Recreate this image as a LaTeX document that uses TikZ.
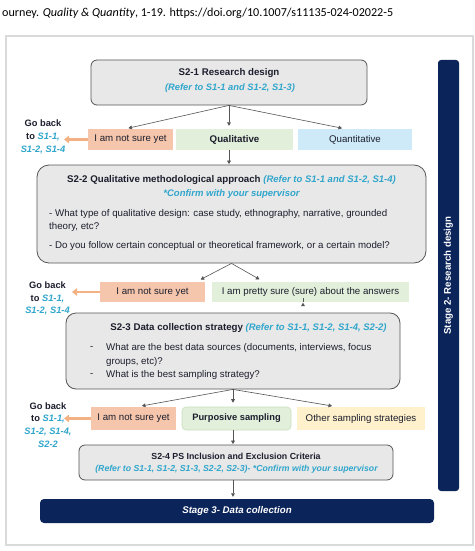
\documentclass[tikz,border=0pt]{standalone}
\usepackage{graphicx}
\usepackage{fontspec}
\setmainfont{Liberation Sans}
\newfontfamily\capfont{Carlito}
\usetikzlibrary{arrows.meta,calc}

\definecolor{navy}{RGB}{11,36,90}
\definecolor{boxgray}{RGB}{232,232,232}
\definecolor{boxline}{RGB}{85,85,85}
\definecolor{salmon}{RGB}{246,198,172}
\definecolor{lgreen}{RGB}{226,239,218}
\definecolor{greenline}{RGB}{200,224,190}
\definecolor{lblue}{RGB}{206,234,248}
\definecolor{lyellow}{RGB}{254,241,204}
\definecolor{cyantxt}{RGB}{48,166,204}
\definecolor{orangearr}{RGB}{244,177,131}
\definecolor{framegray}{RGB}{218,218,218}
\definecolor{txt}{RGB}{28,30,45}
\definecolor{arrgray}{RGB}{85,85,85}

\newcommand{\rf}[1]{{\color{cyantxt}\bfseries\itshape #1}}

\begin{document}
\begin{tikzpicture}[x=1pt,y=-1pt,
  font=\fontsize{9.7}{12.5}\selectfont,
  mainbox/.style={draw=boxline, line width=0.8pt, fill=boxgray, inner sep=0pt},
  optbox/.style={inner sep=0pt, text=txt, minimum height=21pt},
  conn/.style={draw=arrgray, line width=0.6pt, -{Triangle[length=3.5pt,width=3.8pt]}},
  backarrow/.style={draw=orangearr, line width=2.2pt, -{Triangle[length=5pt,width=7.5pt]}},
  goback/.style={align=center, font=\fontsize{9.3}{12.7}\selectfont\bfseries, text=txt, inner sep=0pt},
  ttl/.style={text=txt, inner sep=0pt, font=\fontsize{9.7}{12}\selectfont\bfseries},
  plain/.style={text=txt, inner sep=0pt},
  body/.style={text=txt, inner sep=0pt, anchor=west},
]
\useasboundingbox (0,0) rectangle (474,551);
\fill[white] (0,0) rectangle (474,551);

% citation line
\node[anchor=west, inner sep=0pt, text=black] (cite) at (2,13)
  {\resizebox{391pt}{!}{\capfont\fontsize{11.5}{13}\selectfont ourney. \textit{Quality \& Quantity}, 1-19. https://doi.org/10.1007/s11135-024-02022-5}};

% outer frame
\draw[framegray, line width=1.2pt, fill=white] (6,36) rectangle (473,545);

% sidebar
\node[fill=navy, rounded corners=3pt, rotate=90, minimum width=431pt, minimum height=21pt,
      inner sep=0pt, text=white, font=\fontsize{9.7}{12}\selectfont\bfseries] (st2) at (448.5,275.5)
  {Stage 2- Research design};

% S2-1
\node[mainbox, rounded corners=6pt, minimum width=276pt, minimum height=45pt] (s21) at (229,82.5) {};
\node[ttl] (s21t) at (229,73) {S2-1 Research design};
\node[plain, font=\fontsize{9.3}{12}\selectfont] (s21r) at (230,88) {\rf{(Refer to S1-1 and S1-2, S1-3)}};

% row 1
\node[optbox, fill=salmon, minimum width=85pt] (ns1) at (130.5,139.5) {I am not sure yet};
\node[optbox, fill=lgreen, minimum width=117pt, font=\fontsize{9.7}{12}\selectfont\bfseries] (qual) at (234.5,139.5) {Qualitative};
\node[optbox, fill=lblue, minimum width=114pt] (quant) at (355,139.5) {Quantitative};
\node[goback] (gb1) at (43,137) {Go back\\to \rf{S1-1,}\\\rf{S1-2, S1-4}};
\coordinate (gb1tip) at (64,139.5);

\draw[conn, shorten >=3pt] (s21.south) -- ($(ns1.north)+(-5,0)$);
\draw[conn, shorten >=3pt] (s21.south) -- (s21.south |- qual.north);
\draw[conn, shorten >=3pt] (s21.south) -- ($(quant.north)+(-10,0)$);
\draw[backarrow] (ns1.west) -- (gb1tip);

% S2-2
\node[mainbox, rounded corners=12pt, minimum width=389pt, minimum height=98pt] (s22) at (231.5,214) {};
\draw[conn, shorten >=0.5pt] (qual.south -| s21.south) -- (s22.north -| s21.south);
\node[plain] (s22t) at (231.5,180) {\bfseries S2-2 Qualitative methodological approach {\fontsize{9.5}{12}\selectfont\rf{(Refer to S1-1 and S1-2, S1-4)}}};
\node[plain, font=\fontsize{9.5}{12}\selectfont] (s22c) at (231.5,194) {\rf{*Confirm with your supervisor}};
\node[body] (s22b1) at (49,214) {- What type of qualitative design: case study, ethnography, narrative, grounded};
\node[body] (s22b2) at (49,226.5) {theory, etc?};
\node[body] (s22b3) at (49,246) {- Do you follow certain conceptual or theoretical framework, or a certain model?};

% row 2
\node[optbox, fill=salmon, minimum width=105pt, minimum height=20pt] (ns2) at (152.5,292) {I am not sure yet};
\node[optbox, fill=lgreen, minimum width=197pt, minimum height=20pt] (sure) at (310.5,292) {I am pretty sure (sure) about the answers};
\node[goback] (gb2) at (47.5,298.5) {Go back\\to \rf{S1-1,}\\\rf{S1-2, S1-4}};
\coordinate (gb2tip) at (72,292);

\draw[conn, shorten >=5pt] (s22.south) -- ($(ns2.north east)+(-9,0)$);
\draw[conn, shorten >=5pt] (s22.south) -- ($(sure.north west)+(52,0)$);
\draw[backarrow] (ns2.west) -- (gb2tip);

% S2-3
\node[mainbox, rounded corners=10pt, minimum width=334pt, minimum height=76pt] (s23) at (233,351) {};
\draw[conn, shorten >=0.5pt] ($(sure.south)+(-7.5,0)$) -- ($(sure.south)+(-7.5,0)$ |- s23.north);
\node[plain] (s23t) at (248.5,328) {\bfseries S2-3 Data collection strategy {\fontsize{9.5}{12}\selectfont\rf{(Refer to S1-1, S1-2, S1-4, S2-2)}}};
\node[body] (s23d1) at (90,348) {-};
\node[body] (s23b1) at (106,348) {What are the best data sources (documents, interviews, focus};
\node[body] (s23b2) at (106,362) {groups, etc)?};
\node[body] (s23d2) at (90,375) {-};
\node[body] (s23b3) at (106,375) {What is the best sampling strategy?};

% row 3
\node[optbox, fill=salmon, minimum width=85pt, minimum height=23pt] (ns3) at (133.5,418.5) {I am not sure yet};
\node[optbox, fill=lgreen, draw=greenline, line width=0.6pt, rounded corners=4pt, minimum width=109pt, minimum height=23pt,
      font=\fontsize{9.3}{12}\selectfont\bfseries] (purp) at (236.5,418.5) {Purposive sampling};
\node[optbox, fill=lyellow, minimum width=128pt, minimum height=23pt] (other) at (361,418.5) {Other sampling strategies};
\node[goback] (gb3) at (48,425) {Go back\\to \rf{S1-1,}\\\rf{S1-2, S1-4,}\\\rf{S2-2}};
\coordinate (gb3tip) at (64,418.5);

\draw[conn, shorten >=5pt] (s23.south) -- ($(ns3.north)+(3.5,0)$);
\draw[conn, shorten >=4pt] (s23.south) -- (s23.south |- purp.north);
\draw[conn, shorten >=5pt] (s23.south) -- ($(other.north)+(-24,0)$);
\draw[backarrow] (ns3.west) -- (gb3tip);

% S2-4
\node[mainbox, rounded corners=6pt, minimum width=314pt, minimum height=35pt] (s24) at (236,462.5) {};
\draw[conn, shorten >=0.5pt] (purp.south -| s23.south) -- (s24.north -| s23.south);
\node[ttl, font=\fontsize{8.8}{11}\selectfont\bfseries] (s24t) at (236,456.5) {S2-4 PS Inclusion and Exclusion Criteria};
\node[plain, font=\fontsize{8.7}{11}\selectfont] (s24r) at (236.5,469.5) {\rf{(Refer to S1-1, S1-2, S1-3, S2-2, S2-3)- *Confirm with your supervisor}};

% Stage 3
\node[fill=navy, rounded corners=4pt, minimum width=394pt, minimum height=24pt, inner sep=0pt,
      text=white, font=\fontsize{9.7}{12}\selectfont\bfseries\itshape] (st3) at (237,511) {Stage 3- Data collection};
\draw[conn, shorten >=2pt] (s24.south -| s23.south) -- (st3.north -| s23.south);

\end{tikzpicture}
\end{document}
